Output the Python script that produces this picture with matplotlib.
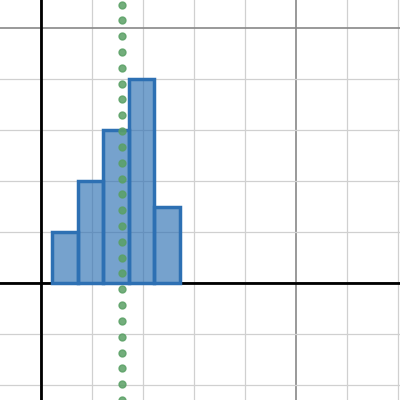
import numpy as np
import matplotlib.pyplot as plt

# histogram bins (left edges), width and heights
bin_left = [0.22, 0.72, 1.22, 1.72, 2.22]
bin_width = 0.5
bin_height = [1, 2, 3, 4, 1.5]
mean_x = 1.6

fig = plt.figure(figsize=(4, 4), dpi=100)
ax = fig.add_axes([0, 0, 1, 1])
xmin, xmax = -0.8, 7.04
ymin, ymax = -2.29, 5.55
ax.set_xlim(xmin, xmax)
ax.set_ylim(ymin, ymax)

# grid
for v in np.arange(-1, 8):
    ax.axvline(v, color='#888888' if v % 5 == 0 else '#d0d0d0', lw=1.2 if v % 5 == 0 else 0.9, zorder=0)
for v in np.arange(-3, 6):
    ax.axhline(v, color='#888888' if v % 5 == 0 else '#d0d0d0', lw=1.2 if v % 5 == 0 else 0.9, zorder=0)
ax.axvline(0, color='black', lw=2, zorder=1)
ax.axhline(0, color='black', lw=2, zorder=1)

ax.bar(bin_left, bin_height, width=bin_width, align='edge',
       facecolor=(0.176, 0.439, 0.702, 0.65), edgecolor='#2d70b3', lw=2.5, zorder=2)

ys = np.arange(ymin, ymax, 0.31)
ax.plot([mean_x] * len(ys), ys, 'o', color='#5aa065', ms=5, alpha=0.85, zorder=3)

ax.set_xticks([])
ax.set_yticks([])
for s in ax.spines.values():
    s.set_visible(False)
fig.savefig('out.png')
